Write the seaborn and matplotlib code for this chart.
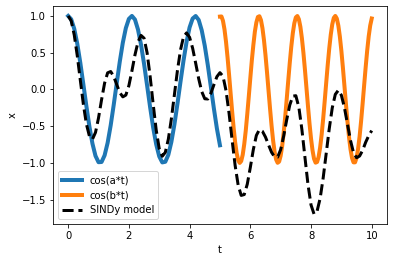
import numpy as np
import matplotlib
matplotlib.use("Agg")
import matplotlib.pyplot as plt
import seaborn as sns

# values
t_a = np.linspace(0, 5, 51)
x_a = [1.000, 0.955, 0.825, 0.622, 0.362, 0.071, -0.227, -0.505, -0.737, -0.904,
       -0.990, -0.987, -0.897, -0.726, -0.490, -0.211, 0.087, 0.378, 0.635, 0.835,
       0.960, 1.000, 0.951, 0.815, 0.608, 0.347, 0.054, -0.243, -0.519, -0.747,
       -0.911, -0.993, -0.984, -0.889, -0.714, -0.476, -0.195, 0.104, 0.393, 0.647,
       0.844, 0.964, 0.999, 0.945, 0.804, 0.594, 0.331, 0.037, -0.259, -0.533,
       -0.760]

t_b = np.linspace(5, 10, 101)
x_b = [0.991, 0.993, 0.933, 0.816, 0.647, 0.438, 0.202, -0.046, -0.292, -0.519,
       -0.716, -0.866, -0.963, -1.000, -0.975, -0.889, -0.745, -0.561, -0.336, -0.095,
       0.153, 0.394, 0.603, 0.786, 0.912, 0.986, 0.996, 0.945, 0.834, 0.672,
       0.468, 0.235, -0.013, -0.260, -0.491, -0.691, -0.849, -0.953, -0.998, -0.982,
       -0.902, -0.770, -0.586, -0.370, -0.128, 0.121, 0.363, 0.582, 0.765, 0.901,
       0.980, 0.999, 0.955, 0.852, 0.696, 0.497, 0.267, 0.020, -0.228, -0.462,
       -0.667, -0.830, -0.944, -0.996, -0.987, -0.917, -0.790, -0.615, -0.401, -0.161,
       0.088, 0.333, 0.556, 0.744, 0.886, 0.973, 1.000, 0.964, 0.869, 0.719,
       0.525, 0.298, 0.053, -0.196, -0.433, -0.642, -0.812, -0.931, -0.992, -0.992,
       -0.930, -0.810, -0.641, -0.430, -0.193, 0.056, 0.301, 0.527, 0.722, 0.870,
       0.965]

t_model = np.linspace(0, 10, 101)
x_model = [1.000, 0.933, 0.742, 0.458, 0.126, -0.201, -0.470, -0.636, -0.677, -0.585,
           -0.387, -0.140, 0.086, 0.226, 0.244, 0.178, 0.066, -0.042, -0.101, -0.077,
           0.052, 0.252, 0.469, 0.646, 0.735, 0.697, 0.499, 0.177, -0.199, -0.552,
           -0.806, -0.909, -0.856, -0.676, -0.399, -0.070, 0.259, 0.536, 0.716, 0.769,
           0.709, 0.561, 0.358, 0.146, -0.029, -0.127, -0.130, -0.054, 0.063, 0.174,
           0.228, 0.180, -0.016, -0.324, -0.686, -1.034, -1.303, -1.442, -1.430, -1.289,
           -1.062, -0.817, -0.625, -0.546, -0.570, -0.648, -0.754, -0.855, -0.919, -0.921,
           -0.819, -0.633, -0.411, -0.212, -0.091, -0.085, -0.244, -0.547, -0.924, -1.293,
           -1.571, -1.696, -1.655, -1.483, -1.205, -0.872, -0.536, -0.250, -0.067, -0.011,
           -0.079, -0.246, -0.470, -0.693, -0.860, -0.929, -0.906, -0.829, -0.719, -0.630,
           -0.560]

fig, ax = plt.subplots(figsize=(394 / 72, 262 / 72), dpi=72)
fig.subplots_adjust(left=0.1345, right=0.982, top=0.977, bottom=0.145)

sns.lineplot(x=t_a, y=x_a, ax=ax, color="#1f77b4", linewidth=4, label="cos(a*t)")
sns.lineplot(x=t_b, y=x_b, ax=ax, color="#ff7f0e", linewidth=4, label="cos(b*t)")
sns.lineplot(x=t_model, y=x_model, ax=ax, color="black", linewidth=3,
             linestyle="--", label="SINDy model")

ax.set_xlabel("t")
ax.set_ylabel("x")
ax.set_xticks([0, 2, 4, 6, 8, 10])
ax.legend(loc="lower left")

fig.savefig("out.png", dpi=72)
